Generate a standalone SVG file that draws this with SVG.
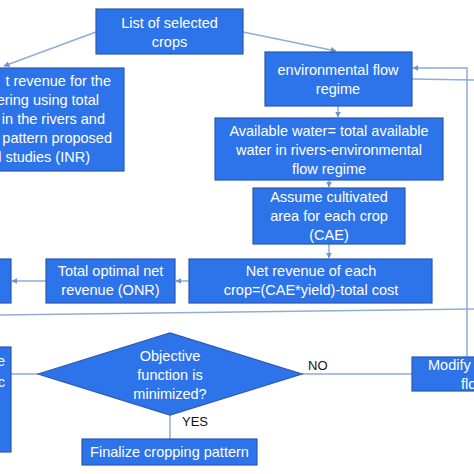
<svg xmlns="http://www.w3.org/2000/svg" width="474" height="474" viewBox="0 0 474 474">
<style>
.box{fill:#2D74EA;stroke:#2A58B0;stroke-width:1.2}
.t{font-family:"Liberation Sans",Arial,sans-serif;font-size:14.5px;fill:#fff;text-anchor:middle}
.te{font-family:"Liberation Sans",Arial,sans-serif;font-size:14.5px;fill:#fff;text-anchor:end}
.ts{font-family:"Liberation Sans",Arial,sans-serif;font-size:14.5px;fill:#fff}
.lbl{font-family:"Liberation Sans",Arial,sans-serif;font-size:13px;fill:#111}
.c{fill:none;stroke:#90ACD8;stroke-width:1.5}
</style>
<defs>
<marker id="ah" viewBox="0 0 10 10" refX="9" refY="5" markerWidth="4" markerHeight="4" orient="auto">
<path d="M0,0L10,5L0,10z" fill="#6F93CF"/>
</marker>
</defs>
<rect width="474" height="474" fill="#fff"/>
<g id="connectors">
<line class="c" x1="96" y1="32" x2="4" y2="66" marker-end="url(#ah)"/>
<line class="c" x1="243" y1="32" x2="336" y2="51" marker-end="url(#ah)"/>
<line class="c" x1="338" y1="106" x2="338" y2="117" marker-end="url(#ah)"/>
<line class="c" x1="329" y1="180" x2="329" y2="187" marker-end="url(#ah)"/>
<line class="c" x1="329" y1="244" x2="329" y2="258" marker-end="url(#ah)"/>
<line class="c" x1="189" y1="281" x2="176" y2="281" marker-end="url(#ah)"/>
<line class="c" x1="46" y1="281" x2="12" y2="281" marker-end="url(#ah)"/>
<line class="c" x1="0" y1="315" x2="474" y2="309"/>
<line class="c" x1="38" y1="374" x2="11" y2="374"/>
<line class="c" x1="170" y1="415" x2="170" y2="439"/>
<line class="c" x1="302" y1="374" x2="412" y2="374"/>
<polyline class="c" points="467,357 467,68 413,68" marker-end="url(#ah)"/>
<line class="c" x1="412" y1="79" x2="474" y2="80"/>
</g>
<g id="n-list">
<rect class="box" x="96" y="9" width="147" height="45"/>
<text class="t" x="169.5" y="28">List of selected</text>
<text class="t" x="169.5" y="47">crops</text>
</g>
<g id="n-inr">
<rect class="box" x="-10" y="68" width="134" height="103"/>
<text class="te" x="111" y="86">t revenue for the</text>
<text class="te" x="99" y="105">ering using total</text>
<text class="te" x="105" y="124">in the rivers and</text>
<text class="te" x="112" y="143">pattern proposed</text>
<text class="te" x="90" y="162">l studies (INR)</text>
</g>
<g id="n-env">
<rect class="box" x="265" y="52" width="147" height="54"/>
<text class="t" x="338" y="75">environmental flow</text>
<text class="t" x="338" y="94">regime</text>
</g>
<g id="n-avail">
<rect class="box" x="215" y="118" width="228" height="62"/>
<text class="t" x="329" y="136">Available water= total available</text>
<text class="t" x="329" y="155">water in rivers-environmental</text>
<text class="t" x="329" y="174">flow regime</text>
</g>
<g id="n-cae">
<rect class="box" x="253" y="188" width="152" height="56"/>
<text class="t" x="329" y="202">Assume cultivated</text>
<text class="t" x="329" y="221">area for each crop</text>
<text class="t" x="329" y="240">(CAE)</text>
</g>
<g id="n-net">
<rect class="box" x="189" y="259" width="243" height="44"/>
<text class="t" x="311" y="276">Net revenue of each</text>
<text class="t" x="311" y="295">crop=(CAE*yield)-total cost</text>
</g>
<g id="n-onr">
<rect class="box" x="46" y="259" width="129" height="44"/>
<text class="t" x="110.5" y="276">Total optimal net</text>
<text class="t" x="110.5" y="295">revenue (ONR)</text>
</g>
<g id="n-left1">
<rect class="box" x="-10" y="259" width="21" height="44"/>
</g>
<g id="n-left2">
<rect class="box" x="-10" y="347" width="21" height="105"/>
<text class="te" x="5" y="366">e</text>
<text class="te" x="5" y="387">c</text>
</g>
<g id="n-obj">
<polygon class="box" points="38,374 170,333 302,374 170,415"/>
<text class="t" x="170" y="361">Objective</text>
<text class="t" x="170" y="380">function is</text>
<text class="t" x="170" y="399">minimized?</text>
</g>
<g id="n-final">
<rect class="box" x="82" y="439" width="175" height="26"/>
<text class="t" x="169.5" y="457">Finalize cropping pattern</text>
</g>
<g id="n-modify">
<rect class="box" x="412" y="357" width="72" height="34"/>
<text class="ts" x="428" y="370">Modify</text>
<text class="ts" x="461" y="389">flo</text>
</g>
<text class="lbl" x="182" y="426">YES</text>
<text class="lbl" x="308" y="370">NO</text>
</svg>
